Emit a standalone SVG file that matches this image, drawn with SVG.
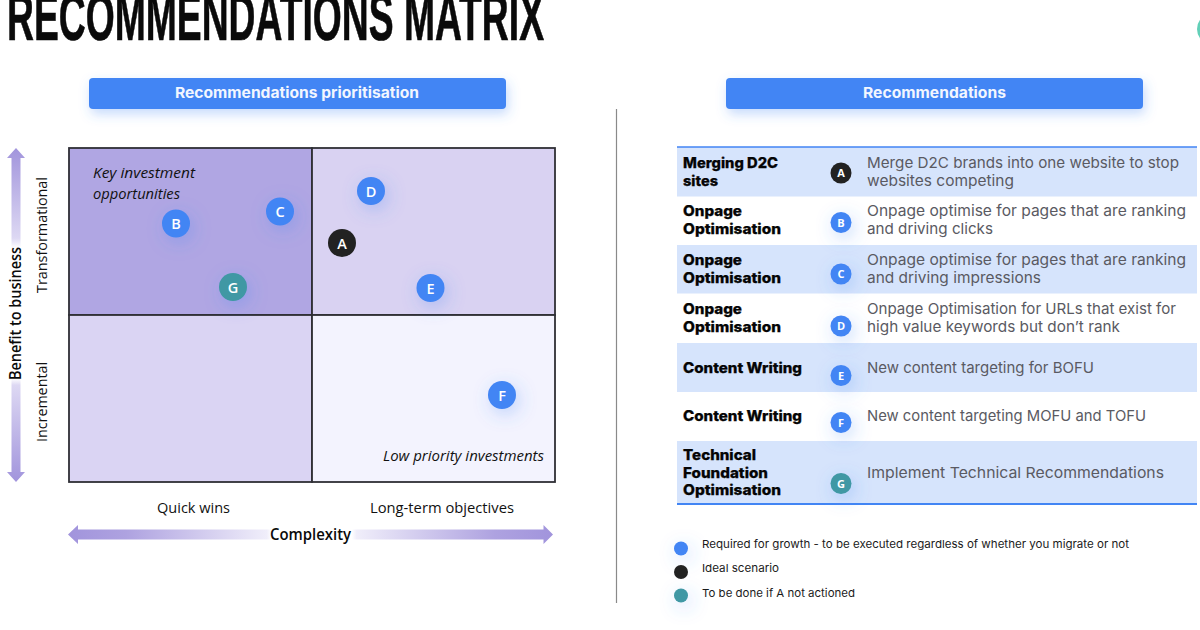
<svg xmlns="http://www.w3.org/2000/svg" width="1200" height="630" viewBox="0 0 1200 630">
<style>
.title{font:700 66px "Liberation Sans",sans-serif;fill:#0a0a0a;stroke:#0a0a0a;stroke-width:.7}
.hdr{font:700 15px Inter,"Noto Sans",sans-serif;fill:#f2f6ff;text-anchor:start}
.ax{font:400 15px "Open Sans","Noto Sans",sans-serif;fill:#111}
.axb{font:600 16px "Open Sans","Noto Sans",sans-serif;fill:#0a0a0a}
.it{font:italic 400 15px "Open Sans","Noto Sans",sans-serif;fill:#111}
.q{stroke:#2f2f35;stroke-width:1.8}
.lbl{font:600 14.5px "Open Sans","Noto Sans",sans-serif;fill:#fff;text-anchor:middle}
.lbs{font:700 11px "Open Sans","Noto Sans",sans-serif;fill:#fff;text-anchor:middle}
.c1{font:800 14.5px Inter,"Noto Sans",sans-serif;fill:#050505;stroke:#050505;stroke-width:.25}
.c3{font:400 15px Inter,"Noto Sans",sans-serif;fill:#5a5a62}
.lg{font:400 11px Inter,"Noto Sans",sans-serif;fill:#1a1a1a}
.row{fill:#d6e4fc}
.blue{fill:#4285f4}.blk{fill:#222222}.teal{fill:#3f98a4}
</style>
<defs>
<filter id="glow" x="-200%" y="-200%" width="500%" height="500%"><feDropShadow dx="3" dy="5" stdDeviation="9" flood-color="#4285f4" flood-opacity="0.3"/></filter>
<filter id="btn" x="-10%" y="-50%" width="120%" height="220%"><feDropShadow dx="2" dy="5" stdDeviation="6" flood-color="#4285f4" flood-opacity="0.3"/></filter>
<linearGradient id="vg" x1="0" y1="148" x2="0" y2="482" gradientUnits="userSpaceOnUse">
<stop offset="0" stop-color="#a194dc"/><stop offset="0.27" stop-color="#ddd8f3"/><stop offset="0.3" stop-color="#ffffff"/><stop offset="0.69" stop-color="#ffffff"/><stop offset="0.71" stop-color="#ddd8f3"/><stop offset="1" stop-color="#a194dc"/></linearGradient>
<linearGradient id="hg" x1="68" y1="0" x2="553" y2="0" gradientUnits="userSpaceOnUse">
<stop offset="0" stop-color="#a194dc"/><stop offset="0.12" stop-color="#aea2e0"/><stop offset="0.41" stop-color="#f0eefa"/><stop offset="0.42" stop-color="#ffffff"/><stop offset="0.585" stop-color="#ffffff"/><stop offset="0.595" stop-color="#f0eefa"/><stop offset="0.88" stop-color="#aea2e0"/><stop offset="1" stop-color="#a194dc"/></linearGradient>
</defs>
<rect width="1200" height="630" fill="#fff"/>
<text class="title" x="7" y="40" textLength="537" lengthAdjust="spacingAndGlyphs">RECOMMENDATIONS MATRIX</text>
<circle cx="1213" cy="29" r="16" fill="#62d0b8"/>
<g id="header-prioritisation"><rect x="89" y="78" width="417" height="31" rx="4" class="blue" filter="url(#btn)"/><text class="hdr" x="175" y="98" textLength="244" lengthAdjust="spacingAndGlyphs">Recommendations prioritisation</text></g>
<g id="header-recommendations"><rect x="726" y="78" width="417" height="31" rx="4" class="blue" filter="url(#btn)"/><text class="hdr" x="863" y="98" textLength="143" lengthAdjust="spacingAndGlyphs">Recommendations</text></g>
<line x1="616.5" y1="109" x2="616.5" y2="603" stroke="#8a8a8a" stroke-width="1.2"/>
<g id="matrix">
<rect x="69" y="148" width="243" height="167" fill="#b0a6e3" class="q"/>
<rect x="312" y="148" width="243" height="167" fill="#d9d2f2" class="q"/>
<rect x="69" y="315" width="243" height="167" fill="#dad4f3" class="q"/>
<rect x="312" y="315" width="243" height="167" fill="#f3f3fe" class="q"/>
<text class="it" x="93" y="178" textLength="102" lengthAdjust="spacingAndGlyphs">Key investment</text>
<text class="it" x="93" y="199" textLength="87" lengthAdjust="spacingAndGlyphs">opportunities</text>
<text class="it" x="383" y="461" textLength="161" lengthAdjust="spacingAndGlyphs">Low priority investments</text>
</g>
<g id="axes">
<path d="M16 148L25 158H20.500V472H25L16 482L7 472H11.500V158H7Z" fill="url(#vg)"/>
<path d="M68 534.500L78 525V529.500H543.500V525L553 534.500L543.500 544V539.500H78V544Z" fill="url(#hg)"/>
<text class="axb" transform="translate(21 380) rotate(-90)" textLength="133" lengthAdjust="spacingAndGlyphs">Benefit to business</text>
<text class="ax" transform="translate(47 293) rotate(-90)" textLength="116" lengthAdjust="spacingAndGlyphs">Transformational</text>
<text class="ax" transform="translate(47 442) rotate(-90)" textLength="80" lengthAdjust="spacingAndGlyphs">Incremental</text>
<text class="ax" x="157" y="513" textLength="73" lengthAdjust="spacingAndGlyphs">Quick wins</text>
<text class="ax" x="370" y="513" textLength="144" lengthAdjust="spacingAndGlyphs">Long-term objectives</text>
<text class="axb" x="270" y="540" textLength="81" lengthAdjust="spacingAndGlyphs">Complexity</text>
</g>
<g id="point-b"><circle cx="176" cy="223.500" r="14" class="blue" filter="url(#glow)"/><text class="lbl" x="176" y="229">B</text></g>
<g id="point-c"><circle cx="280" cy="211.500" r="14" class="blue" filter="url(#glow)"/><text class="lbl" x="280" y="217">C</text></g>
<g id="point-d"><circle cx="371" cy="191" r="14" class="blue" filter="url(#glow)"/><text class="lbl" x="371" y="196.500">D</text></g>
<g id="point-a"><circle cx="342" cy="243" r="14" class="blk"/><text class="lbl" x="342" y="248.500">A</text></g>
<g id="point-e"><circle cx="430.500" cy="288" r="14" class="blue" filter="url(#glow)"/><text class="lbl" x="430.500" y="293.500">E</text></g>
<g id="point-g"><circle cx="233" cy="287" r="14" class="teal" filter="url(#glow)"/><text class="lbl" x="233" y="292.500">G</text></g>
<g id="point-f"><circle cx="502" cy="395" r="14" class="blue" filter="url(#glow)"/><text class="lbl" x="502" y="400.500">F</text></g>
<g id="table">
<rect x="677" y="147" width="520" height="49.500" class="row"/>
<rect x="677" y="245" width="520" height="48.500" class="row"/>
<rect x="677" y="343" width="520" height="49" class="row"/>
<rect x="677" y="441" width="520" height="63" class="row"/>
<line x1="677" y1="147" x2="1197" y2="147" stroke="#4285f4" stroke-width="1.500"/>
<line x1="677" y1="504" x2="1197" y2="504" stroke="#4285f4" stroke-width="2"/>
<text class="c1" x="683" y="168" textLength="95" lengthAdjust="spacingAndGlyphs">Merging D2C</text>
<text class="c1" x="683" y="185.500" textLength="35" lengthAdjust="spacingAndGlyphs">sites</text>
<text class="c1" x="683" y="216" textLength="59" lengthAdjust="spacingAndGlyphs">Onpage</text>
<text class="c1" x="683" y="234" textLength="98" lengthAdjust="spacingAndGlyphs">Optimisation</text>
<text class="c1" x="683" y="265" textLength="59" lengthAdjust="spacingAndGlyphs">Onpage</text>
<text class="c1" x="683" y="283" textLength="98" lengthAdjust="spacingAndGlyphs">Optimisation</text>
<text class="c1" x="683" y="314" textLength="59" lengthAdjust="spacingAndGlyphs">Onpage</text>
<text class="c1" x="683" y="332" textLength="98" lengthAdjust="spacingAndGlyphs">Optimisation</text>
<text class="c1" x="683" y="373" textLength="119" lengthAdjust="spacingAndGlyphs">Content Writing</text>
<text class="c1" x="683" y="421" textLength="119" lengthAdjust="spacingAndGlyphs">Content Writing</text>
<text class="c1" x="683" y="460" textLength="73" lengthAdjust="spacingAndGlyphs">Technical</text>
<text class="c1" x="683" y="478" textLength="85" lengthAdjust="spacingAndGlyphs">Foundation</text>
<text class="c1" x="683" y="495" textLength="98" lengthAdjust="spacingAndGlyphs">Optimisation</text>
<text class="c3" x="867" y="168" textLength="312" lengthAdjust="spacingAndGlyphs">Merge D2C brands into one website to stop</text>
<text class="c3" x="867" y="186" textLength="147" lengthAdjust="spacingAndGlyphs">websites competing</text>
<text class="c3" x="867" y="216" textLength="319" lengthAdjust="spacingAndGlyphs">Onpage optimise for pages that are ranking</text>
<text class="c3" x="867" y="234" textLength="126" lengthAdjust="spacingAndGlyphs">and driving clicks</text>
<text class="c3" x="867" y="265" textLength="319" lengthAdjust="spacingAndGlyphs">Onpage optimise for pages that are ranking</text>
<text class="c3" x="867" y="283" textLength="174" lengthAdjust="spacingAndGlyphs">and driving impressions</text>
<text class="c3" x="867" y="314" textLength="309" lengthAdjust="spacingAndGlyphs">Onpage Optimisation for URLs that exist for</text>
<text class="c3" x="867" y="332" textLength="253" lengthAdjust="spacingAndGlyphs">high value keywords but don’t rank</text>
<text class="c3" x="867" y="373" textLength="227" lengthAdjust="spacingAndGlyphs">New content targeting for BOFU</text>
<text class="c3" x="867" y="421" textLength="279" lengthAdjust="spacingAndGlyphs">New content targeting MOFU and TOFU</text>
<text class="c3" x="867" y="478" textLength="297" lengthAdjust="spacingAndGlyphs">Implement Technical Recommendations</text>
</g>
<g id="badge-a"><circle cx="841" cy="173" r="10.500" class="blk"/><text class="lbs" x="841" y="177">A</text></g>
<g id="badge-b"><circle cx="841" cy="222.500" r="10.500" class="blue" filter="url(#glow)"/><text class="lbs" x="841" y="226.500">B</text></g>
<g id="badge-c"><circle cx="841" cy="274" r="10.500" class="blue" filter="url(#glow)"/><text class="lbs" x="841" y="278">C</text></g>
<g id="badge-d"><circle cx="841" cy="326" r="10.500" class="blue" filter="url(#glow)"/><text class="lbs" x="841" y="330">D</text></g>
<g id="badge-e"><circle cx="841" cy="375.500" r="10.500" class="blue" filter="url(#glow)"/><text class="lbs" x="841" y="379.500">E</text></g>
<g id="badge-f"><circle cx="841" cy="422.500" r="10.500" class="blue" filter="url(#glow)"/><text class="lbs" x="841" y="426.500">F</text></g>
<g id="badge-g"><circle cx="841" cy="483.500" r="10.500" class="teal" filter="url(#glow)"/><text class="lbs" x="841" y="487.500">G</text></g>
<g id="legend">
<circle cx="681" cy="548.500" r="7" class="blue" filter="url(#glow)"/>
<circle cx="681" cy="572" r="7" class="blk"/>
<circle cx="681" cy="595.500" r="7" class="teal" filter="url(#glow)"/>
<text class="lg" x="702" y="547.500" textLength="427" lengthAdjust="spacingAndGlyphs">Required for growth - to be executed regardless of whether you migrate or not</text>
<text class="lg" x="702" y="571.500" textLength="77" lengthAdjust="spacingAndGlyphs">Ideal scenario</text>
<text class="lg" x="702" y="596.500" textLength="153" lengthAdjust="spacingAndGlyphs">To be done if A not actioned</text>
</g>
</svg>
